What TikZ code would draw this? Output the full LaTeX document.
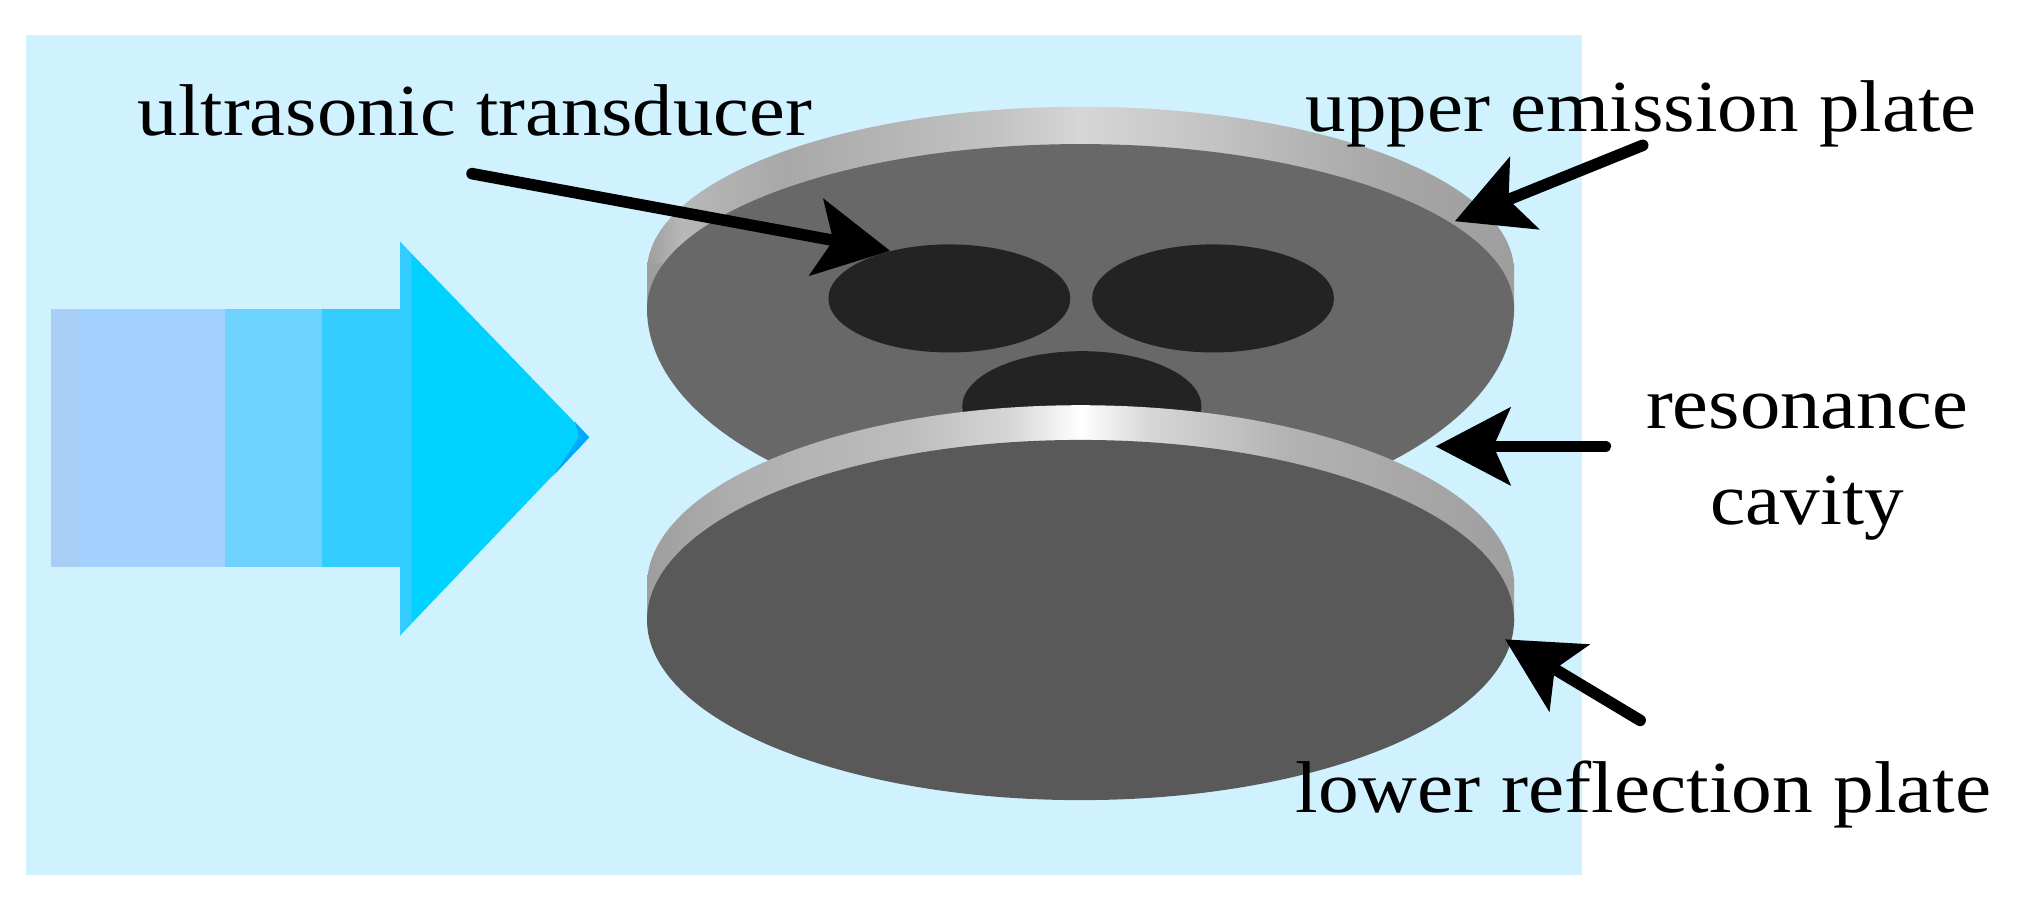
\documentclass[tikz,border=0pt]{standalone}
\usepackage{fontspec}
\setmainfont{Liberation Serif}
\usetikzlibrary{arrows.meta}
\definecolor{bgblue}{HTML}{D0F2FF}
\definecolor{shA}{HTML}{A2D0FF}
\definecolor{shAa}{HTML}{A8CEF8}
\definecolor{shB}{HTML}{6ED2FF}
\definecolor{shC}{HTML}{33CCFF}
\definecolor{shD}{HTML}{00D2FF}
\definecolor{shE}{HTML}{00A8FF}
\definecolor{faceU}{HTML}{686868}
\definecolor{faceL}{HTML}{595959}
\definecolor{hole}{HTML}{232323}
\definecolor{rimEnd}{rgb}{.62,.62,.62}
\pgfdeclarehorizontalshading{rimU}{100bp}{
  rgb(0bp)=(.62,.62,.62); rgb(25bp)=(.62,.62,.62); rgb(27bp)=(.72,.72,.72); rgb(33bp)=(.66,.66,.66);
  rgb(45bp)=(.76,.76,.76); rgb(50bp)=(.84,.84,.84); rgb(58bp)=(.76,.76,.76);
  rgb(68bp)=(.65,.65,.65); rgb(75bp)=(.62,.62,.62); rgb(100bp)=(.62,.62,.62)}
\pgfdeclarehorizontalshading{rimL}{100bp}{
  rgb(0bp)=(.62,.62,.62); rgb(25bp)=(.62,.62,.62); rgb(30bp)=(.68,.68,.68); rgb(40bp)=(.74,.74,.74);
  rgb(46bp)=(.84,.84,.84); rgb(50bp)=(1,1,1); rgb(54bp)=(.84,.84,.84);
  rgb(62bp)=(.70,.70,.70); rgb(75bp)=(.62,.62,.62); rgb(100bp)=(.62,.62,.62)}
\tikzset{
  lbl/.style={inner sep=0pt,font=\fontsize{57}{60}\selectfont,text=black},
  pointer/.style={draw=black,line width=9pt,line cap=round,
    -{Stealth[length=58pt,width=60pt,inset=13pt]}},
  holeE/.style={fill=hole,draw=none},
}
\newcommand{\st}[2]{\scalebox{#1}[1]{#2}}
\begin{document}
\begin{tikzpicture}[x=1pt,y=-1pt]
\useasboundingbox (0,0) rectangle (1568,706.6);
\fill[white] (0,0) rectangle (1568,706.6);
\fill[bgblue] (20,27) rectangle (1230,680);
% big arrow
\fill[shA] (40,240) rectangle (176,441);
\fill[shAa] (40,240) rectangle (62,441);
\fill[shB] (175,240) rectangle (251,441);
\fill[shC] (250,240) rectangle (320,441);
\fill[shD] (311,188) -- (458,340) -- (311,494) -- cycle;
\fill[shC] (311,188) -- (320,198) -- (320,484) -- (311,494) -- cycle;
\fill[shE] (458,340) -- (447,328) -- (450,340) -- (430,370) -- cycle;
% upper plate
\shade[shading=rimU] (840,211) ellipse [x radius=337,y radius=128];
\fill[rimEnd] (503,205) rectangle (516,246) (1164,205) rectangle (1177,246);
\fill[faceU] (503,240) .. controls (503,169.3) and (654,112) .. (840,112)
  .. controls (1026,112) and (1177,169.3) .. (1177,240)
  .. controls (1177,333.9) and (1026,410) .. (840,410)
  .. controls (654,410) and (503,333.9) .. (503,240) -- cycle;
\fill[holeE] (738,232) ellipse [x radius=94,y radius=42];
\fill[holeE] (943,232) ellipse [x radius=94,y radius=42];
\fill[holeE] (841,316) ellipse [x radius=93,y radius=43];
% lower plate
\shade[shading=rimL] (840,455) ellipse [x radius=337,y radius=140];
\fill[rimEnd] (503,449) rectangle (516,486) (1164,449) rectangle (1177,486);
\fill[faceL] (840,482) ellipse [x radius=337,y radius=140];
% labels
\node[lbl,anchor=base west] (ut) at (107,105) {\st{1.10}{ultrasonic transducer}};
\node[lbl,anchor=base west] (ue) at (1015,102) {\st{1.105}{upper emission plate}};
\node[lbl,anchor=base] (rc) at (1405,333) {\st{1.10}{resonance}};
\node[lbl,anchor=base] (cv) at (1405,408) {\st{1.08}{cavity}};
\node[lbl,anchor=base west] (lr) at (1007,632) {\st{1.11}{lower reflection plate}};
% pointers
\coordinate (a1) at (367,135); \coordinate (b1) at (692,195);
\coordinate (a2) at (1277,113); \coordinate (b2) at (1131,172);
\coordinate (a3) at (1248,347); \coordinate (b3) at (1116,347);
\coordinate (a4) at (1275,560); \coordinate (b4) at (1170,497);
\draw[pointer] (a1) -- (b1);
\draw[pointer] (a2) -- (b2);
\draw[pointer] (a3) -- (b3);
\draw[pointer] (a4) -- (b4);
\end{tikzpicture}
\end{document}
